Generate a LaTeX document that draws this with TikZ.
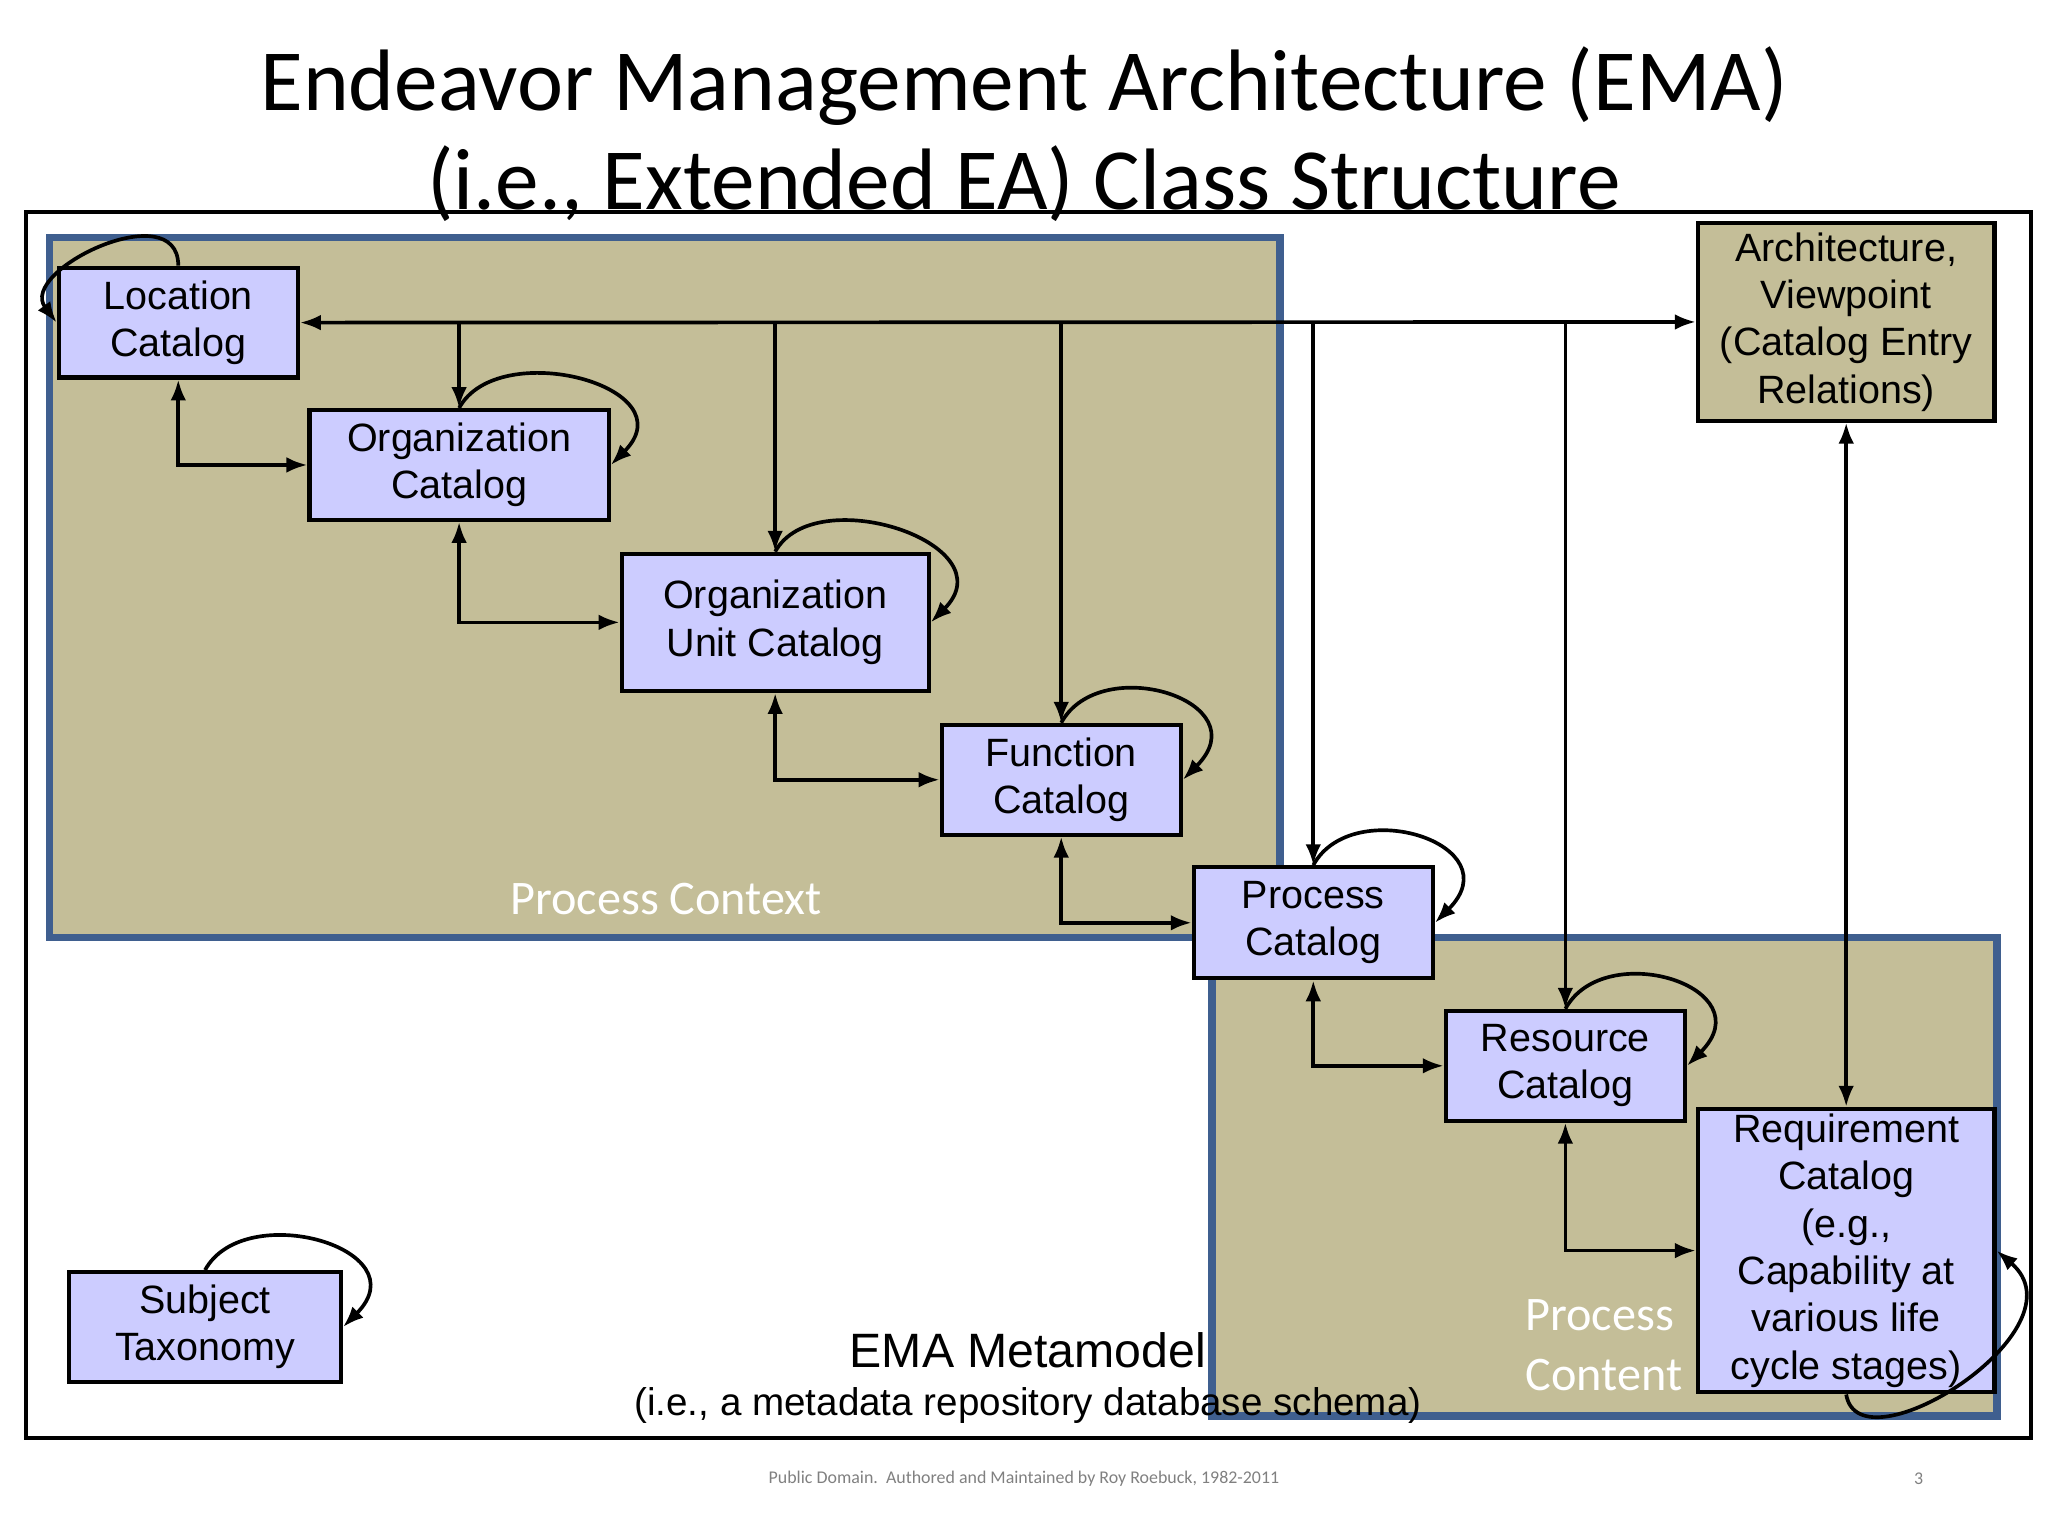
\documentclass[tikz,border=0pt]{standalone}
\usepackage{fontspec}
\setmainfont{Liberation Sans}
\newfontfamily\calfnt{Carlito}
\usetikzlibrary{arrows.meta}
\definecolor{tan}{RGB}{196,190,152}
\definecolor{frameblue}{RGB}{63,95,143}
\definecolor{boxfill}{RGB}{204,204,255}
\begin{document}
\begin{tikzpicture}[x=0.01cm,y=-0.01cm,
  box/.style={draw=black,line width=0.9pt,fill=boxfill,align=center,font=\fontsize{8.6}{10.3}\selectfont,inner sep=0pt},
  area/.style={draw=frameblue,line width=1.6pt,fill=tan},
  con/.style={line width=0.8pt,-{Latex[length=1.6mm,width=1.2mm]}},
  bcon/.style={line width=0.8pt,{Latex[length=1.6mm,width=1.2mm]}-{Latex[length=1.6mm,width=1.2mm]}}]
\useasboundingbox (0,0) rectangle (1568,1176);
\node[font=\calfnt\fontsize{19}{21.6}\selectfont,align=center] (title) at (784,103) {Endeavor Management Architecture (EMA)\\(i.e., Extended EA) Class Structure};
\draw[line width=0.9pt] (20,162) rectangle (1555,1101);
\draw[area] (38,182) rectangle (980,718);
\draw[area] (928,718) rectangle (1529,1084);
\node[text=white,font=\calfnt\fontsize{10.5}{12}\selectfont] (pc) at (510,688) {Process Context};
\node[text=white,font=\calfnt\fontsize{10.5}{13.2}\selectfont,align=left] (pct) at (1228,1030) {Process\\Content};
\node[box,fill=tan,minimum width=2.27cm,minimum height=1.51cm] (arch) at (1413.5,246.5) {Architecture,\\Viewpoint\\(Catalog Entry\\Relations)};
\node[box,minimum width=1.83cm,minimum height=0.84cm] (loc) at (136.5,247) {Location\\Catalog};
\node[box,minimum width=2.29cm,minimum height=0.84cm] (org) at (351.5,356) {Organization\\Catalog};
\node[box,minimum width=2.35cm,minimum height=1.05cm] (ou) at (593.5,476.5) {Organization\\Unit Catalog};
\node[box,minimum width=1.83cm,minimum height=0.84cm] (fn) at (812.5,597) {Function\\Catalog};
\node[box,minimum width=1.83cm,minimum height=0.85cm] (pr) at (1005.5,706.5) {Process\\Catalog};
\node[box,minimum width=1.83cm,minimum height=0.84cm] (rs) at (1198.5,816) {Resource\\Catalog};
\node[box,minimum width=2.27cm,minimum height=2.17cm] (rq) at (1413.5,957.5) {Requirement\\Catalog\\(e.g.,\\Capability at\\various life\\cycle stages)};
\node[box,minimum width=2.08cm,minimum height=0.84cm] (sub) at (157,1016) {Subject\\Taxonomy};
\node[font=\fontsize{10.5}{12}\selectfont] (ema) at (787,1034) {EMA Metamodel};
\node[font=\fontsize{8.4}{10}\selectfont] (ie) at (787,1076) {(i.e., a metadata repository database schema)};
\node[text=gray,font=\calfnt\fontsize{3.9}{5}\selectfont] (foot) at (784,1132) {Public Domain.\ \ Authored and Maintained by Roy Roebuck, 1982-2011};
\node[text=gray,font=\calfnt\fontsize{3.9}{5}\selectfont] (pg) at (1469,1132) {3};
% main bus
\draw[bcon] (loc.east) -- (arch.west);
\foreach \n/\c in {org/j1,ou/j2,fn/j3,pr/j4,rs/j5}{
  \coordinate (\c) at (\n.north |- loc.east);
  \draw[con] (\c) -- (\n.north);}
\draw[bcon] (arch.south) -- (rq.north);
% chain
\draw[bcon] (loc.south) |- (org.west);
\draw[bcon] (org.south) |- (ou.west);
\draw[bcon] (ou.south) |- (fn.west);
\draw[bcon] (fn.south) |- (pr.west);
\draw[bcon] (pr.south) |- (rs.west);
\draw[bcon] (rs.south) |- (rq.west);
% self loops
\foreach \n in {org,ou,fn,pr,rs,sub}{
  \draw[con] (\n.north) .. controls ([shift={(30,-55)}]\n.north) and ([shift={(60,-60)}]\n.east) .. (\n.east);}
\draw[con] (loc.north) .. controls ([shift={(0,-55)}]loc.north) and ([shift={(-30,-40)}]loc.west) .. (loc.west);
\draw[con] (rq.south) .. controls ([shift={(10,60)}]rq.south) and ([shift={(70,60)}]rq.east) .. (rq.east);
\end{tikzpicture}
\end{document}
